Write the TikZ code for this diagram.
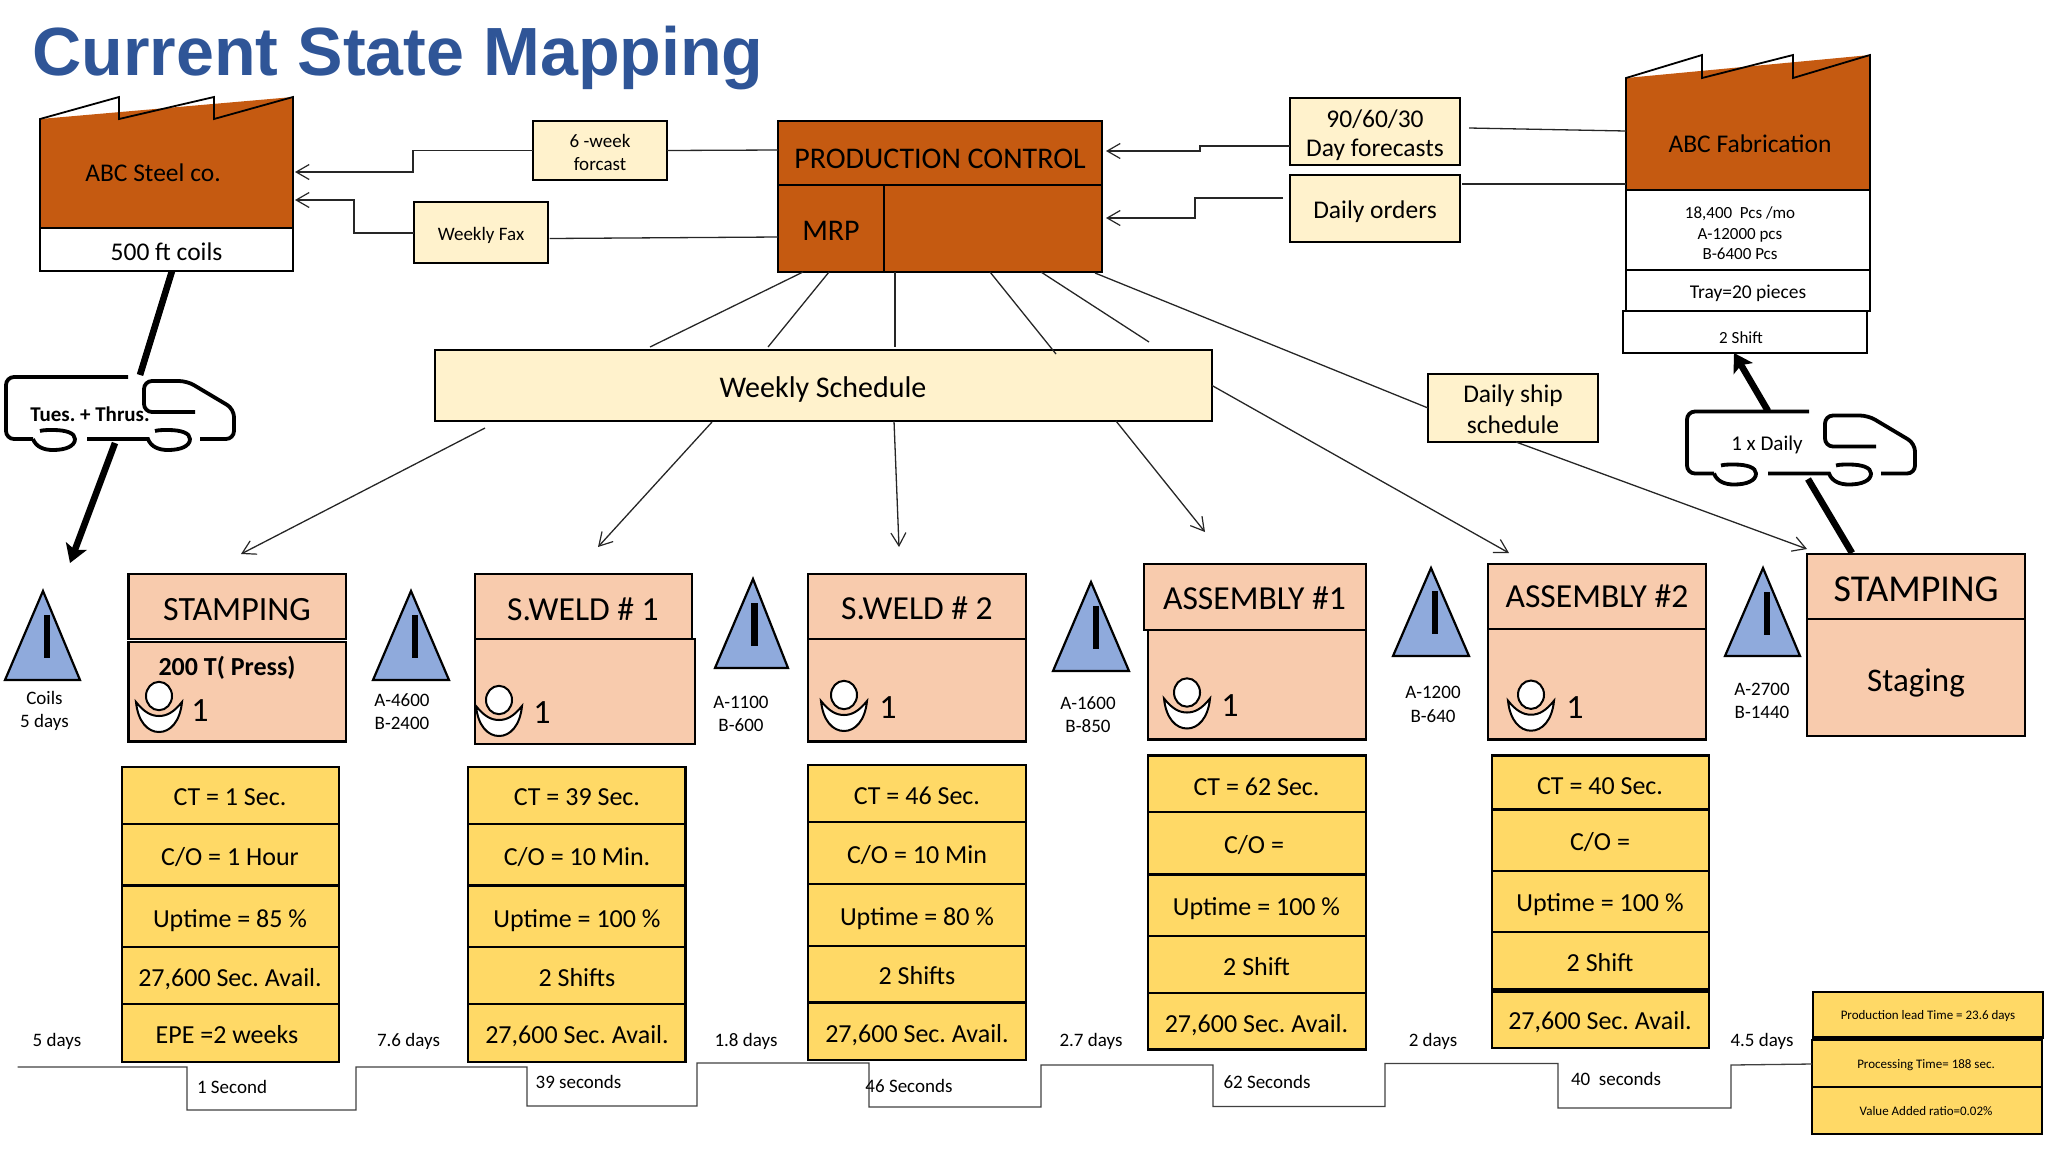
\documentclass[tikz,border=0pt]{standalone}
\usepackage{fontspec}
\usetikzlibrary{arrows.meta,calc}
\setmainfont{Carlito}
\newfontfamily\titlefont{Liberation Sans}
\AtBeginDocument{\frenchspacing}
\definecolor{brownfill}{HTML}{C55A11}
\definecolor{creamfill}{HTML}{FFF2CC}
\definecolor{peachfill}{HTML}{F8CBAD}
\definecolor{yellowfill}{HTML}{FFD966}
\definecolor{bluefill}{HTML}{8FAADC}
\definecolor{titleblue}{HTML}{2F5597}
\newcommand\fpx[1]{\pgfmathsetmacro\fz{#1*0.5}\fontsize{\fz pt}{\fz pt}\selectfont}
% box given by its corners, in reference pixels
\newcommand\bx[7]{\pgfmathsetmacro\cx{(#2+#4)/2}\pgfmathsetmacro\cy{(#3+#5)/2}%
 \node[#6,anchor=north west,minimum width={(#4-#2)*0.5pt},minimum height={(#5-#3)*0.5pt}] (#1) at (#2,#3) {#7};}
% a text line in the current box: centre x, baseline y
\newcommand\tl[3]{\pgfmathsetlengthmacro\tlx{(#1-\cx)*0.5pt}\pgfmathsetlengthmacro\tly{(\cy-#2)*0.5pt}%
 \raisebox{\tly}[0pt][0pt]{\kern\tlx\makebox[0pt][c]{#3}\kern-\tlx}}
\newcommand\rowb[8]{\bx{#1}{#2}{#3}{#4}{#5}{datarow}{\tl{#6}{#7}{#8}}}
\newcommand\txt[5]{\node[#1,anchor=base] (#2) at (#3,#4) {#5};}
\newcommand\invtri[8]{\fill[bluefill] (#2,#3)--(#4,#5)--(#6,#5)--cycle;
 \draw[line width=1.1pt,line join=miter] (#2,#3)--(#4,#5)--(#6,#5)--cycle;
 \draw[line width=3.2pt] (#7,#8) -- ++(0,43);}
\tikzset{
 x=0.5pt,y=-0.5pt,
 vbox/.style={draw=black,line width=1.2pt,inner sep=0pt,outer sep=0pt},
 creambox/.style={vbox,fill=creamfill},
 brownbox/.style={vbox,fill=brownfill},
 whitebox/.style={vbox,fill=white},
 peachbox/.style={vbox,fill=peachfill},
 datarow/.style={vbox,fill=yellowfill,font=\fpx{26}},
 sumrow/.style={vbox,fill=yellowfill,font=\fpx{13}},
 blank/.style={inner sep=0pt,outer sep=0pt},
 small/.style={font=\fpx{19},inner sep=0pt},
 onedigit/.style={font=\fpx{34},inner sep=0pt},
 conn/.style={draw=black!85,line width=0.65pt},
 barb/.style={conn,-{Straight Barb[length=6.5pt,width=7.5pt,line width=0.6pt]}},
 heavy/.style={draw=black,line width=3.3pt},
 heavyarrow/.style={heavy,-{Stealth[length=9pt,width=11pt,inset=2pt]}},
 sawtooth/.style={draw=black,line width=0.9pt,line join=miter},
 pics/operator/.style={code={
  \draw[fill=white,line width=1pt] (0,0) ellipse [x radius=6.5pt,y radius=7.1pt];
  \draw[fill=white,line width=1pt] (-23,6) .. controls (-21,26) and (-11,36) .. (0,36)
    .. controls (11,36) and (21,26) .. (23,6) .. controls (15,16) and (8,20) .. (0,20)
    .. controls (-8,20) and (-15,16) .. (-23,6) -- cycle;
 }},
 pics/vantruck/.style={code={
  \draw[line width=1.9pt,rounded corners=4pt] (128,377) -- (6,377) -- (6,439) -- (33,439);
  \draw[line width=1.9pt] (33,439) .. controls (36,447) and (44,450) .. (53,450)
    .. controls (66,450) and (75,446) .. (75,439) .. controls (75,433) and (66,430) .. (53,430)
    .. controls (48,430) and (43,430) .. (40,431);
  \draw[line width=1.9pt] (87,439) -- (148,439) .. controls (151,447) and (159,450) .. (168,450)
    .. controls (181,450) and (190,446) .. (190,439) .. controls (190,433) and (181,430) .. (168,430)
    .. controls (163,430) and (158,430) .. (155,431);
  \draw[line width=1.9pt,rounded corners=4pt] (200,439) -- (234,439) -- (234,409) -- (187,381)
    -- (144,381) -- (144,412) -- (195,412);
 }},
}
\begin{document}
\begin{tikzpicture}
\useasboundingbox (0,0) rectangle (2048,1152);
% title
\node[anchor=base west,inner sep=0pt,text=titleblue,font=\titlefont\bfseries\fpx{68.2}] (title) at (32,75) {Current State Mapping};

% ABC Steel factory
\fill[brownfill] (40,119) -- (293,97) -- (293,228) -- (40,228) -- cycle;
\draw[sawtooth] (40,228) -- (40,119) -- (119,97) -- (119,119) -- (214,97) -- (214,119) -- (293,97) -- (293,228);
\bx{steel}{40}{119}{293}{228}{blank,font=\fpx{25.5}}{\tl{153}{181}{ABC Steel co.}}
\bx{coils}{40}{228}{293}{271}{whitebox,font=\fpx{25.5}}{\tl{166.5}{260}{500 ft coils}}

% ABC Fabrication factory
\fill[brownfill] (1626,78) -- (1870,55) -- (1870,190) -- (1626,190) -- cycle;
\draw[sawtooth] (1626,190) -- (1626,78) -- (1702,55) -- (1702,78) -- (1793,55) -- (1793,78) -- (1870,55) -- (1870,190);
\bx{fab}{1626}{78}{1870}{190}{blank,font=\fpx{25.5}}{\tl{1750}{152}{ABC Fabrication}}
\bx{fabqty}{1626}{190}{1870}{270}{whitebox,font=\fpx{17}}{\tl{1740}{218}{18,400~~Pcs /mo}\tl{1740}{239}{A-12000 pcs}\tl{1740}{259}{B-6400 Pcs}}
\bx{fabtray}{1626}{270}{1870}{311}{whitebox,font=\fpx{19.5}}{\tl{1748}{298}{Tray=20 pieces}}
\bx{fabshift}{1623}{311}{1867}{353}{whitebox,font=\fpx{17}}{\tl{1741}{343}{2 Shift}}

% production control
\bx{pc}{778}{121}{1102}{272}{brownbox}{}
\bx{pctop}{778}{121}{1102}{185}{brownbox,font=\fpx{30}}{\tl{940}{168}{PRODUCTION CONTROL}}
\bx{mrp}{778}{185}{884}{272}{brownbox,font=\fpx{30}}{\tl{831}{240}{MRP}}

% information boxes
\bx{w6}{533}{121}{667}{180}{creambox,font=\fpx{19}}{\tl{600}{147}{6 -week}\tl{600}{170}{forcast}}
\bx{fax}{414}{202}{548}{263}{creambox,font=\fpx{19}}{\tl{481}{240.5}{Weekly Fax}}
\bx{f90}{1290}{98}{1460}{165}{creambox,font=\fpx{25.5}}{\tl{1375}{127}{90/60/30}\tl{1375}{156}{Day forecasts}}
\bx{dord}{1290}{175}{1460}{242}{creambox,font=\fpx{25.5}}{\tl{1375}{218.5}{Daily orders}}
\bx{ws}{435}{350}{1212}{421}{creambox,font=\fpx{30}}{\tl{823}{397}{Weekly Schedule}}
\bx{dss}{1428}{374}{1598}{442}{creambox,font=\fpx{25.5}}{\tl{1513}{402}{Daily ship}\tl{1513}{433}{schedule}}

% coordinates of free arrow ends
\coordinate (tipa) at (241,554);
\coordinate (tipb) at (598,547);
\coordinate (tipc) at (899,547);
\coordinate (tipd) at (1205,532);
\coordinate (tipe) at (1509,553);
\coordinate (tipf) at (1807,549);
\coordinate (tiph) at (70,563);

% information connectors
\draw[barb] (w6.west) -- ++(-120,0) -- ++(0,21.5) -- ($(steel.east)+(2,-1.5)$);
\draw[barb] ($(fax.west)+(0,0.5)$) -- ++(-60,0) -- ++(0,-33) -- ($(steel.east)+(2,26.5)$);
\draw[conn] ($(w6.east)$) -- ($(pc.north west)+(0,29)$);
\draw[conn] ($(fax.east)+(1.5,6)$) -- ($(pc.north west)+(0,116)$);
\draw[conn] ($(f90.east)+(9,-3.5)$) -- ($(fab.west)+(0,-3)$);
\draw[conn] ($(dord.north east)+(2,9)$) -- ($(fab.south west)+(0,-6)$);
\draw[barb] ($(f90.west)+(0,14.5)$) -- ++(-90,0) -- ++(0,5) -- ($(pc.north east)+(4,30)$);
\draw[barb] ($(dord.north west)+(-7,23)$) -- ++(-88,0) -- ++(0,20) -- ($(pc.north east)+(4,97)$);
\draw[conn] ($(pc.south west)+(25,0)$) -- ($(ws.north west)+(215,-3)$);
\draw[conn] ($(pc.south west)+(51,0)$) -- ($(ws.north west)+(333,-3)$);
\draw[conn] ($(pc.south west)+(117,0)$) -- ($(ws.north west)+(460,-3)$);
\draw[conn] ($(pc.south west)+(212,0)$) -- ($(ws.north west)+(621,4)$);
\draw[conn] ($(pc.south west)+(263,0)$) -- ($(ws.north west)+(714,-8)$);
\draw[conn] ($(pc.south west)+(317,1)$) -- (dss.west);
\draw[barb] ($(ws.south west)+(50,7)$) -- (tipa);
\draw[barb] ($(ws.south west)+(277,1)$) -- (tipb);
\draw[barb] ($(ws.south west)+(459,0)$) -- (tipc);
\draw[barb] ($(ws.south west)+(681,0)$) -- (tipd);
\draw[barb] (ws.east) -- (tipe);
\draw[barb] ($(dss.south)+(3,0)$) -- (tipf);

% trucks
\pic at (0,0) {vantruck};
\pic at (1681,34.5) {vantruck};
\txt{inner sep=0pt,font=\bfseries\fpx{21}}{truckleft}{90}{421}{Tues. + Thrus.}
\txt{inner sep=0pt,font=\fpx{21}}{truckright}{1767}{450}{1 x Daily}
\draw[heavy] ($(coils.south)+(5.5,0)$) -- (140,375);
\draw[heavyarrow] (115,443) -- (tiph);
\draw[heavyarrow] (1768,411) -- (fabshift.south -| 1734,0);

% process boxes
\bx{stb}{128.5}{642}{346}{741.5}{peachbox}{}
\bx{sth}{128.5}{574}{346}{639}{peachbox,font=\fpx{34}}{\tl{237}{620}{STAMPING}}
\txt{inner sep=0pt,font=\bfseries\fpx{26}}{press}{227}{675}{200 T( Press)}
\pic at (159,696) {operator};
\txt{onedigit}{opa}{200}{721}{1}

\bx{sab}{475}{639}{695}{744}{peachbox}{}
\bx{sah}{475}{574}{692}{639}{peachbox,font=\fpx{33.6}}{\tl{583}{620}{S.WELD \# 1}}
\pic at (499,700) {operator};
\txt{onedigit}{opb}{542}{723}{1}

\bx{sbb}{808}{639}{1026}{741.5}{peachbox}{}
\bx{sbh}{808}{574}{1026}{639}{peachbox,font=\fpx{33.6}}{\tl{917}{619}{S.WELD \# 2}}
\pic at (844,695) {operator};
\txt{onedigit}{opc}{888}{718}{1}

\bx{aab}{1148}{630}{1366}{739.5}{peachbox}{}
\bx{aah}{1144}{564}{1366}{630}{peachbox,font=\fpx{33.6}}{\tl{1254.5}{609}{ASSEMBLY \#1}}
\pic at (1187,692.5) {operator};
\txt{onedigit}{opd}{1230}{716}{1}

\bx{abb}{1488}{629}{1706}{739.5}{peachbox}{}
\bx{abh}{1488}{564}{1706}{629}{peachbox,font=\fpx{33.6}}{\tl{1597}{607.5}{ASSEMBLY \#2}}
\pic at (1531,694.7) {operator};
\txt{onedigit}{ope}{1575}{718.5}{1}

\bx{stage}{1807}{619}{2025}{736}{peachbox,font=\fpx{33}}{\tl{1916}{691}{Staging}}
\bx{stamp}{1807}{554}{2025}{619}{peachbox,font=\fpx{38}}{\tl{1916}{601}{STAMPING}}
\draw[heavy] ($(stamp.north west)+(45,-1)$) -- (1808,479);

% inventory triangles
\invtri{a}{43}{591}{5}{680}{80}{47}{615}
\invtri{b}{411}{591}{373}{680}{449}{415}{615}
\invtri{c}{753}{579}{715}{668}{788}{754.5}{603}
\invtri{d}{1091}{582}{1053}{671}{1129}{1096}{606}
\invtri{e}{1431}{568}{1393}{656}{1469}{1435}{591}
\invtri{f}{1763}{568}{1725}{656}{1800}{1767}{592}
\txt{small}{il1}{44.5}{704}{Coils}
\txt{small}{il2}{44.5}{727}{5 days}
\txt{small}{il3}{402}{706}{A-4600}
\txt{small}{il4}{402}{729.5}{B-2400}
\txt{small}{il5}{741}{708}{A-1100}
\txt{small}{il6}{741}{731}{B-600}
\txt{small}{il7}{1088}{709.5}{A-1600}
\txt{small}{il8}{1088}{732.5}{B-850}
\txt{small}{il9}{1433}{698.5}{A-1200}
\txt{small}{il10}{1433}{722}{B-640}
\txt{small}{il11}{1762}{695}{A-2700}
\txt{small}{il12}{1762}{718.5}{B-1440}

% data boxes
\rowb{d1a}{122}{767}{339}{824}{230}{805}{CT = 1 Sec.}
\rowb{d1b}{122}{824}{339}{885.5}{230}{865}{C/O = 1 Hour}
\rowb{d1c}{122}{885.5}{339}{947}{230}{927}{Uptime = 85 \%}
\rowb{d1d}{122}{947}{339}{1004}{230}{986}{27,600 Sec. Avail.}
\rowb{d1e}{122}{1004}{339}{1062}{227}{1043}{EPE =2 weeks}

\rowb{d2a}{468}{767}{685.5}{824}{577}{805}{CT = 39 Sec.}
\rowb{d2b}{468}{824}{685.5}{885.5}{577}{865}{C/O = 10 Min.}
\rowb{d2c}{468}{885.5}{685.5}{947}{577}{927}{Uptime = 100 \%}
\rowb{d2d}{468}{947}{685.5}{1004}{577}{986}{2 Shifts}
\rowb{d2e}{468}{1004}{685.5}{1062}{577}{1043}{27,600 Sec. Avail.}

\rowb{d3a}{808}{765}{1026}{822}{917}{804.5}{CT = 46 Sec.}
\rowb{d3b}{808}{822}{1026}{884}{917}{863.5}{C/O = 10 Min}
\rowb{d3c}{808}{884}{1026}{946}{917}{925}{Uptime = 80 \%}
\rowb{d3d}{808}{946}{1026}{1002.5}{917}{984}{2 Shifts}
\rowb{d3e}{808}{1002.5}{1026}{1060}{917}{1042}{27,600 Sec. Avail.}

\rowb{d4a}{1148}{755.5}{1366}{812}{1256.5}{795}{CT = 62 Sec.}
\rowb{d4b}{1148}{812}{1366}{874.5}{1254}{853.5}{C/O =}
\rowb{d4c}{1148}{874.5}{1366}{936}{1256.5}{915.5}{Uptime = 100 \%}
\rowb{d4d}{1148}{936}{1366}{993}{1256.5}{975}{2 Shift}
\rowb{d4e}{1148}{993}{1366}{1049.5}{1256.5}{1032}{27,600 Sec. Avail.}

\rowb{d5a}{1492}{755.5}{1709}{809.5}{1600}{794}{CT = 40 Sec.}
\rowb{d5b}{1492}{809.5}{1709}{871}{1600}{850}{C/O =}
\rowb{d5c}{1492}{871}{1709}{932}{1600}{911.5}{Uptime = 100 \%}
\rowb{d5d}{1492}{932}{1709}{989.5}{1600}{971}{2 Shift}
\rowb{d5e}{1492}{991.5}{1709}{1048}{1600}{1029}{27,600 Sec. Avail.}

% summary boxes
\bx{sum1}{1813}{992}{2043}{1037.5}{sumrow}{\tl{1928}{1019.5}{Production lead Time = 23.6 days}}
\bx{sum2}{1812}{1040}{2042}{1087}{sumrow}{\tl{1926}{1068}{Processing Time= 188 sec.}}
\bx{sum3}{1812}{1087}{2042}{1134}{sumrow}{\tl{1926}{1115.5}{Value Added ratio=0.02\%}}

% timeline
\coordinate (tlstart) at (17.5,1067);
\draw[draw=black!75,line width=0.65pt] (tlstart) -- (187,1067) -- (187,1110) -- (356,1110) -- (356,1067)
 -- (527,1067) -- (527,1106) -- (697,1106) -- (697,1063) -- (869,1063) -- (869,1107) -- (1041,1107)
 -- (1041,1065) -- (1213,1065) -- (1213,1106.5) -- (1385,1106.5) -- (1385,1063.5) -- (1558,1063.5)
 -- (1558,1108) -- (1731,1108) -- (1731,1065) -- ($(sum2.west)+(0,0.5)$);
\txt{small}{tla}{57}{1046}{5 days}
\txt{small}{tlb}{408.5}{1046}{7.6 days}
\txt{small}{tlc}{746}{1046}{1.8 days}
\txt{small}{tld}{1091}{1046}{2.7 days}
\txt{small}{tle}{1433}{1046}{2 days}
\txt{small}{tlf}{1762}{1046}{4.5 days}
\txt{small}{tlg}{232}{1093}{1 Second}
\txt{small}{tlh}{578.5}{1088.5}{39 seconds}
\txt{small}{tli}{909}{1092}{46 Seconds}
\txt{small}{tlj}{1267}{1088.5}{62 Seconds}
\txt{small}{tlk}{1616}{1085}{40~~seconds}
\end{tikzpicture}
\end{document}
